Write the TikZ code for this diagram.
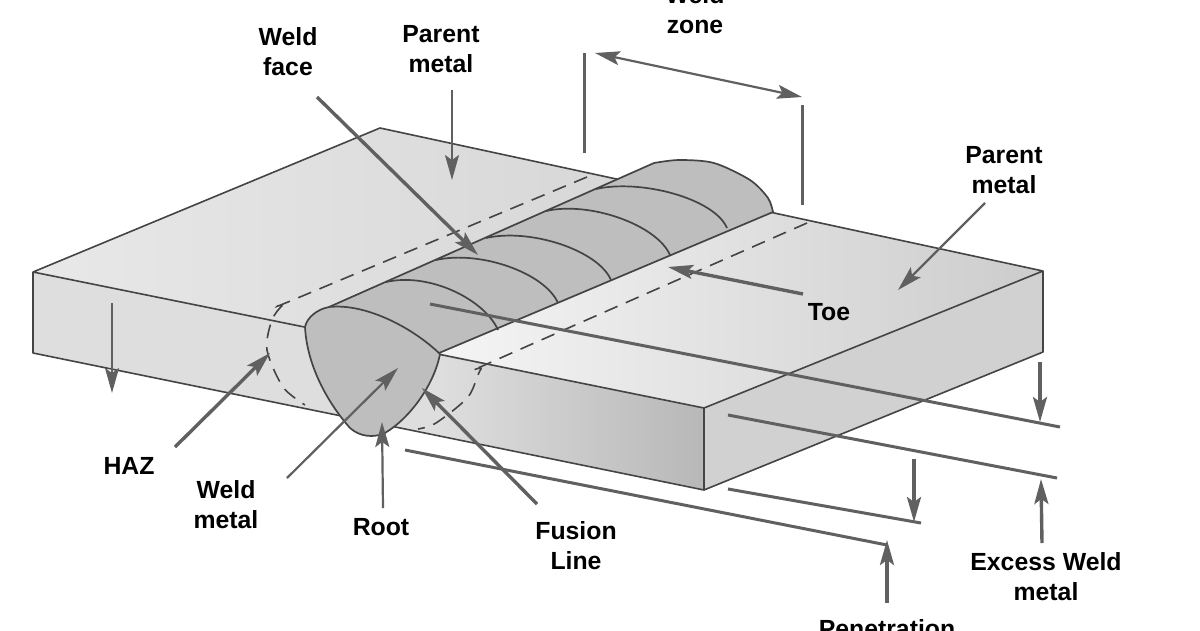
\documentclass[tikz,border=0pt]{standalone}
\usepackage{fontspec}
\setmainfont{Liberation Sans}
\usetikzlibrary{arrows.meta}
\definecolor{edgegray}{HTML}{444444}
\definecolor{leadgray}{HTML}{606060}
\definecolor{beadgray}{HTML}{BEBEBE}
\tikzset{
  label text/.style={font=\fontsize{24.8}{30}\selectfont\bfseries, align=center, text=black, inner sep=0pt},
  slab edge/.style={draw=edgegray, line width=1.6pt, line join=round},
  bead edge/.style={draw=edgegray, line width=1.7pt},
  haz dash/.style={draw=edgegray, line width=1.6pt, dash pattern=on 14pt off 9pt},
  rule line/.style={draw=leadgray, line width=3pt},
  lead tip/.style={-{Stealth[length=25pt,width=14pt,inset=5pt]}},
  thin lead/.style={draw=leadgray, line width=2.2pt, lead tip},
  thick lead/.style={draw=leadgray, line width=3.4pt, lead tip}
}

\begin{document}
\begin{tikzpicture}[x=1pt,y=-1pt]
        \useasboundingbox (0,0) rectangle (1200,630);
        \clip (0,0) rectangle (1200,630);

        % Draw slab faces
        \fill[gray!25] (380,128) -- (1043,271) -- (704,408) -- (33,272) -- cycle;
        \shade[left color=gray!18, right color=gray!32] (380,128) -- (654,187) -- (329,330) -- (33,272) -- cycle;
        \shade[left color=gray!8, right color=gray!40] (439,353) -- (773,212) -- (1043,271) -- (704,408) -- cycle;
        \fill[gray!26] (33,272) -- (439,354) -- (439,435) -- (33,353) -- cycle;
        \shade[left color=gray!26, right color=gray!56] (439,354) -- (704,408) -- (704,490) -- (439,435) -- cycle;
        \fill[gray!36] (704,408) -- (1043,271) -- (1043,352) -- (704,490) -- cycle;

        % Draw slab edges
        \draw[slab edge] (704,408) -- (33,272) -- (380,128) -- (1043,271) -- (704,408) -- (704,490) -- (33,353) -- (33,272);
        \draw[slab edge] (704,490) -- (1043,352) -- (1043,271);

        % Draw heat affected zone
        \draw[haz dash] plot[smooth] coordinates {(587,177) (300,297) (284,304) (272,320) (267,350) (283,387) (305,405)};
        \draw[haz dash] plot[smooth] coordinates {(807,223) (496,360) (481,369) (468,397) (436,423) (418,429)};

        % Draw weld bead
        \fill[beadgray] (305,327) -- (329,307) -- (654,163) -- plot[smooth] coordinates {(654,163) (679,160) (714,163) (750,180) (768,198) (773,212)} -- (439,353) -- cycle;
        \draw[bead edge] (329,307) -- (654,163);
        \draw[bead edge] plot[smooth] coordinates {(654,163) (679,160) (714,163) (750,180) (768,198) (773,212)};
        \draw[bead edge] (439,353) -- (773,212);

        % Draw ripples
        \foreach \sx/\sy/\ex/\ey in {386/282/498/330, 436/260/558/303, 486/238/611/280, 546/211/670/255, 596/189/727/228}
            \draw[bead edge] (\sx,\sy) .. controls +(44,-10) and +(-13,-30) .. (\ex,\ey);

        % Draw weld cross section
        \draw[bead edge, fill=beadgray, line join=round] (305,327) .. controls (307,317) and (318,309) .. (329,307) .. controls (365,303) and (412,327) .. (440,354) .. controls (434,385) and (410,418) .. (385,433) .. controls (374,438) and (360,437) .. (350,428) .. controls (327,402) and (307,365) .. (305,327) -- cycle;

        % Draw dimension rules
        \draw[rule line] (584,53) -- (584,153);
        \draw[rule line] (802,105) -- (802,205);
        \draw[rule line] (430,304) -- (1060,427);
        \draw[rule line] (728,415) -- (1057,478);
        \draw[rule line] (728,489) -- (921,523);
        \draw[rule line] (405,450) -- (887,545);

        % Add labels
        \node[label text] (weldface) at (288,52) {Weld\\face};
        \node[label text] (parentback) at (441,49) {Parent\\metal};
        \node[label text] (weldzone) at (695,10) {Weld\\zone};
        \node[label text] (parentright) at (1004,170) {Parent\\metal};
        \node[label text] (toe) at (829,312) {Toe};
        \node[label text] (haz) at (129,466) {HAZ};
        \node[label text] (weldmetal) at (226,505) {Weld\\metal};
        \node[label text] (root) at (381,527) {Root};
        \node[label text] (fusion) at (576,546) {Fusion\\Line};
        \node[label text] (excess) at (1046,577) {Excess Weld\\metal};
        \node[label text] (penetration) at (887,629) {Penetration};

        % Mark leader ends
        \coordinate (facefoot) at (317,97);
        \coordinate (facetip) at (478,255);
        \coordinate (backfoot) at (452,90);
        \coordinate (backtip) at (452,180);
        \coordinate (zonea) at (595,53);
        \coordinate (zoneb) at (802,97);
        \coordinate (rightfoot) at (985,203);
        \coordinate (righttip) at (898,290);
        \coordinate (toefoot) at (803,294);
        \coordinate (toetip) at (668,267);
        \coordinate (hazupper) at (112,303);
        \coordinate (hazlower) at (112,393);
        \coordinate (hazfoot) at (175,447);
        \coordinate (haztip) at (270,353);
        \coordinate (metalfoot) at (287,478);
        \coordinate (metaltip) at (398,368);
        \coordinate (rootfoot) at (383,508);
        \coordinate (roottip) at (382,422);
        \coordinate (fusionfoot) at (537,504);
        \coordinate (fusiontip) at (422,388);
        \coordinate (exupper) at (1040,362);
        \coordinate (exuppertip) at (1040,422);
        \coordinate (exfoot) at (1042,543);
        \coordinate (extip) at (1041,479);
        \coordinate (peupper) at (914,459);
        \coordinate (peuppertip) at (914,522);
        \coordinate (pefoot) at (887,603);
        \coordinate (petip) at (887,540);

        % Draw leaders
        \draw[thick lead] (facefoot) -- (facetip);
        \draw[thin lead] (backfoot) -- (backtip);
        \draw[thin lead, {Stealth[length=25pt,width=14pt,inset=5pt]}-{Stealth[length=25pt,width=14pt,inset=5pt]}] (zonea) -- (zoneb);
        \draw[thin lead] (rightfoot) -- (righttip);
        \draw[thick lead] (toefoot) -- (toetip);
        \draw[thin lead] (hazupper) -- (hazlower);
        \draw[thick lead] (hazfoot) -- (haztip);
        \draw[thin lead] (metalfoot) -- (metaltip);
        \draw[thin lead] (rootfoot) -- (roottip);
        \draw[thick lead] (fusionfoot) -- (fusiontip);
        \draw[thick lead] (exupper) -- (exuppertip);
        \draw[thick lead] (exfoot) -- (extip);
        \draw[thick lead] (peupper) -- (peuppertip);
        \draw[thick lead] (pefoot) -- (petip);
    \end{tikzpicture}
\end{document}
